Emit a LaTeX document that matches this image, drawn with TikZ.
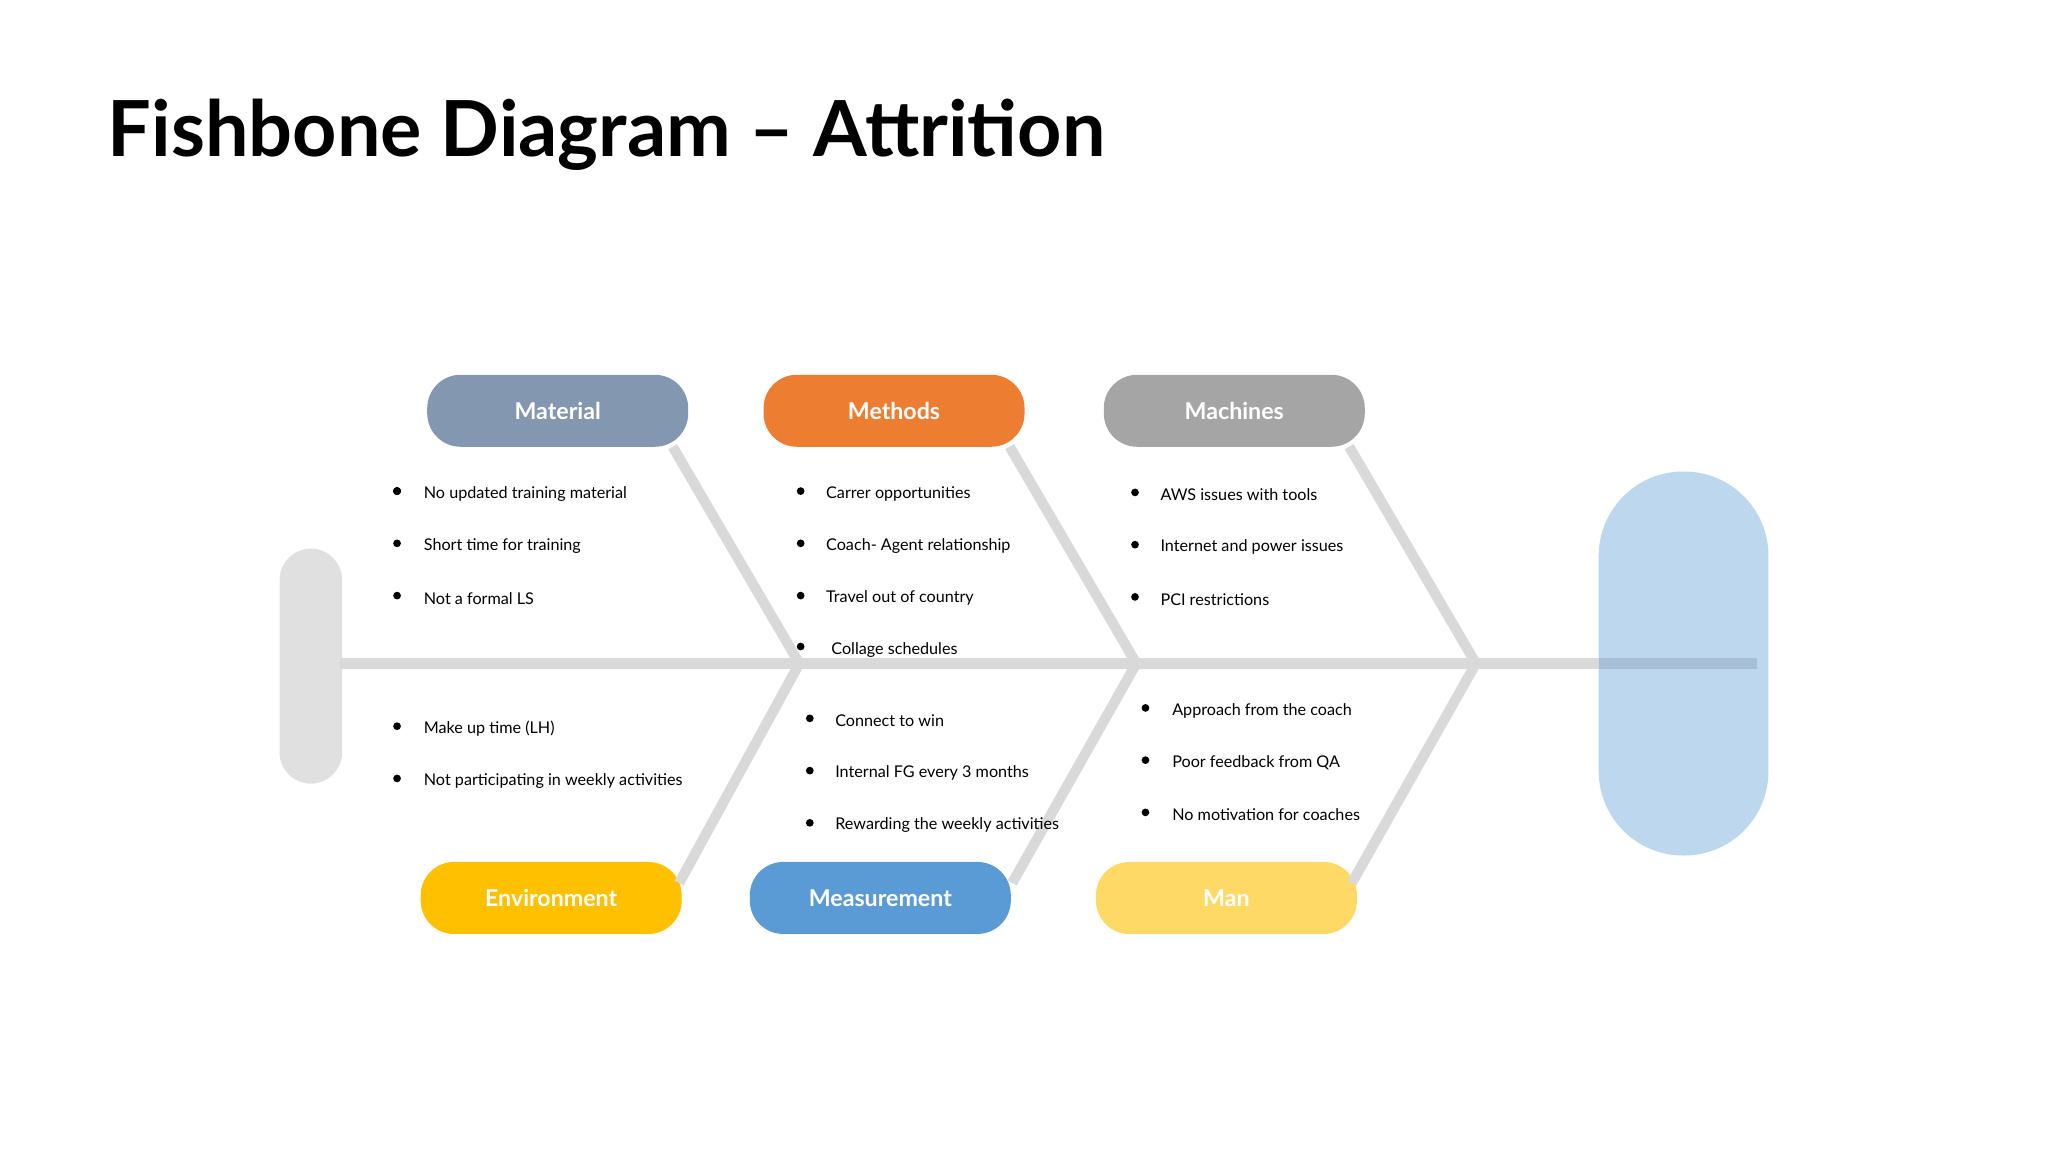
\documentclass[tikz,border=0pt]{standalone}
\usepackage{fontspec}
\setmainfont{Lato}
\begin{document}
\begin{tikzpicture}[x=0.013061cm,y=-0.013061cm,
  bone/.style={line width=2.9pt,draw=black!15},
  catbox/.style={rounded corners=9.5pt,minimum width=2.61cm,minimum height=0.72cm,text=white,font=\fontsize{6.6}{8}\selectfont\bfseries,inner sep=0pt},
  item/.style={anchor=west,font=\fontsize{4.6}{6}\selectfont,inner sep=0pt},
  dot/.style={circle,fill=black,inner sep=0pt,minimum size=2.2pt}]
\useasboundingbox (0,0) rectangle (1568,882);
\fill[white] (0,0) rectangle (1568,882);
\node[anchor=base west,inner sep=0pt,font=\fontsize{22}{26}\selectfont\bfseries] (title) at (82,120) {Fishbone Diagram – Attrition};
% head and tail
\fill[black!12,rounded corners=9pt] (214,420) rectangle (262,600);
\fill[blue!50!cyan!25!white,fill=blue!20!cyan!22!white] (1224,361) rectangle (1354,655);
\fill[white] (1224,361) rectangle (1354,655);
\fill[color={rgb,255:red,189;green,215;blue,238},rounded corners=24pt] (1224,361) rectangle (1354,655);
\node[inner sep=0pt] (head) at (1289,508) {};
\node[inner sep=0pt] (tail) at (260,508) {};
\coordinate (j1) at (612,508);
\coordinate (j2) at (870,508);
\coordinate (j3) at (1130,508);
\coordinate (spineend) at (1345,508);
\draw[bone] (tail.center) -- (1224,508);
\draw[line width=2.9pt,draw={rgb,255:red,166;green,191;blue,214}] (1224,508) -- (spineend);
% boxes
\node[catbox,fill={rgb,255:red,132;green,151;blue,176}] (mat) at (427,314.5) {Material};
\node[catbox,fill={rgb,255:red,237;green,125;blue,49}] (met) at (684.5,314.5) {Methods};
\node[catbox,fill={rgb,255:red,165;green,165;blue,165}] (mac) at (945,314.5) {Machines};
\node[catbox,fill={rgb,255:red,255;green,192;blue,0}] (env) at (422,687.5) {Environment};
\node[catbox,fill={rgb,255:red,91;green,155;blue,213}] (mea) at (674,687.5) {Measurement};
\node[catbox,fill={rgb,255:red,255;green,217;blue,102}] (man) at (939,687.5) {Man};
% bones
\begin{scope}[on background layer/.try]
\end{scope}
\draw[bone] (515,342) -- (j1);
\draw[bone] (773,342) -- (j2);
\draw[bone] (1033,342) -- (j3);
\draw[bone] (520,676) -- (j1);
\draw[bone] (775,676) -- (j2);
\draw[bone] (1035,676) -- (j3);
% items
\foreach \t/\y [count=\i] in {No updated training material/378,Short time for training/418,Not a formal LS/458}
  {\node[dot] (ma\i) at (304,376) {}; \node[dot] at (304,\y-2) {}; \node[item] (mat\i) at (324,\y) {\t};}
\foreach \t/\y [count=\i] in {Carrer opportunities/378,Coach- Agent relationship/418,Travel out of country/458}
  {\node[dot] at (613,\y-2) {}; \node[item] (met\i) at (632,\y) {\t};}
\node[dot] at (613,495) {}; \node[item] (met4) at (636,498) {Collage schedules};
\foreach \t/\y [count=\i] in {AWS issues with tools/379,Internet and power issues/419,PCI restrictions/459}
  {\node[dot] at (869,\y-2) {}; \node[item] (mac\i) at (888,\y) {\t};}
\foreach \t/\y [count=\i] in {Make up time (LH)/558,Not participating in weekly activities/598}
  {\node[dot] at (304,\y-2) {}; \node[item] (env\i) at (324,\y) {\t};}
\foreach \t/\y [count=\i] in {Connect to win/552,Internal FG every 3 months/592,Rewarding the weekly activities/632}
  {\node[dot] at (620,\y-2) {}; \node[item] (mea\i) at (639,\y) {\t};}
\foreach \t/\y [count=\i] in {Approach from the coach/544,Poor feedback from QA/584,No motivation for coaches/624}
  {\node[dot] at (877,\y-2) {}; \node[item] (man\i) at (897,\y) {\t};}
\end{tikzpicture}
\end{document}
